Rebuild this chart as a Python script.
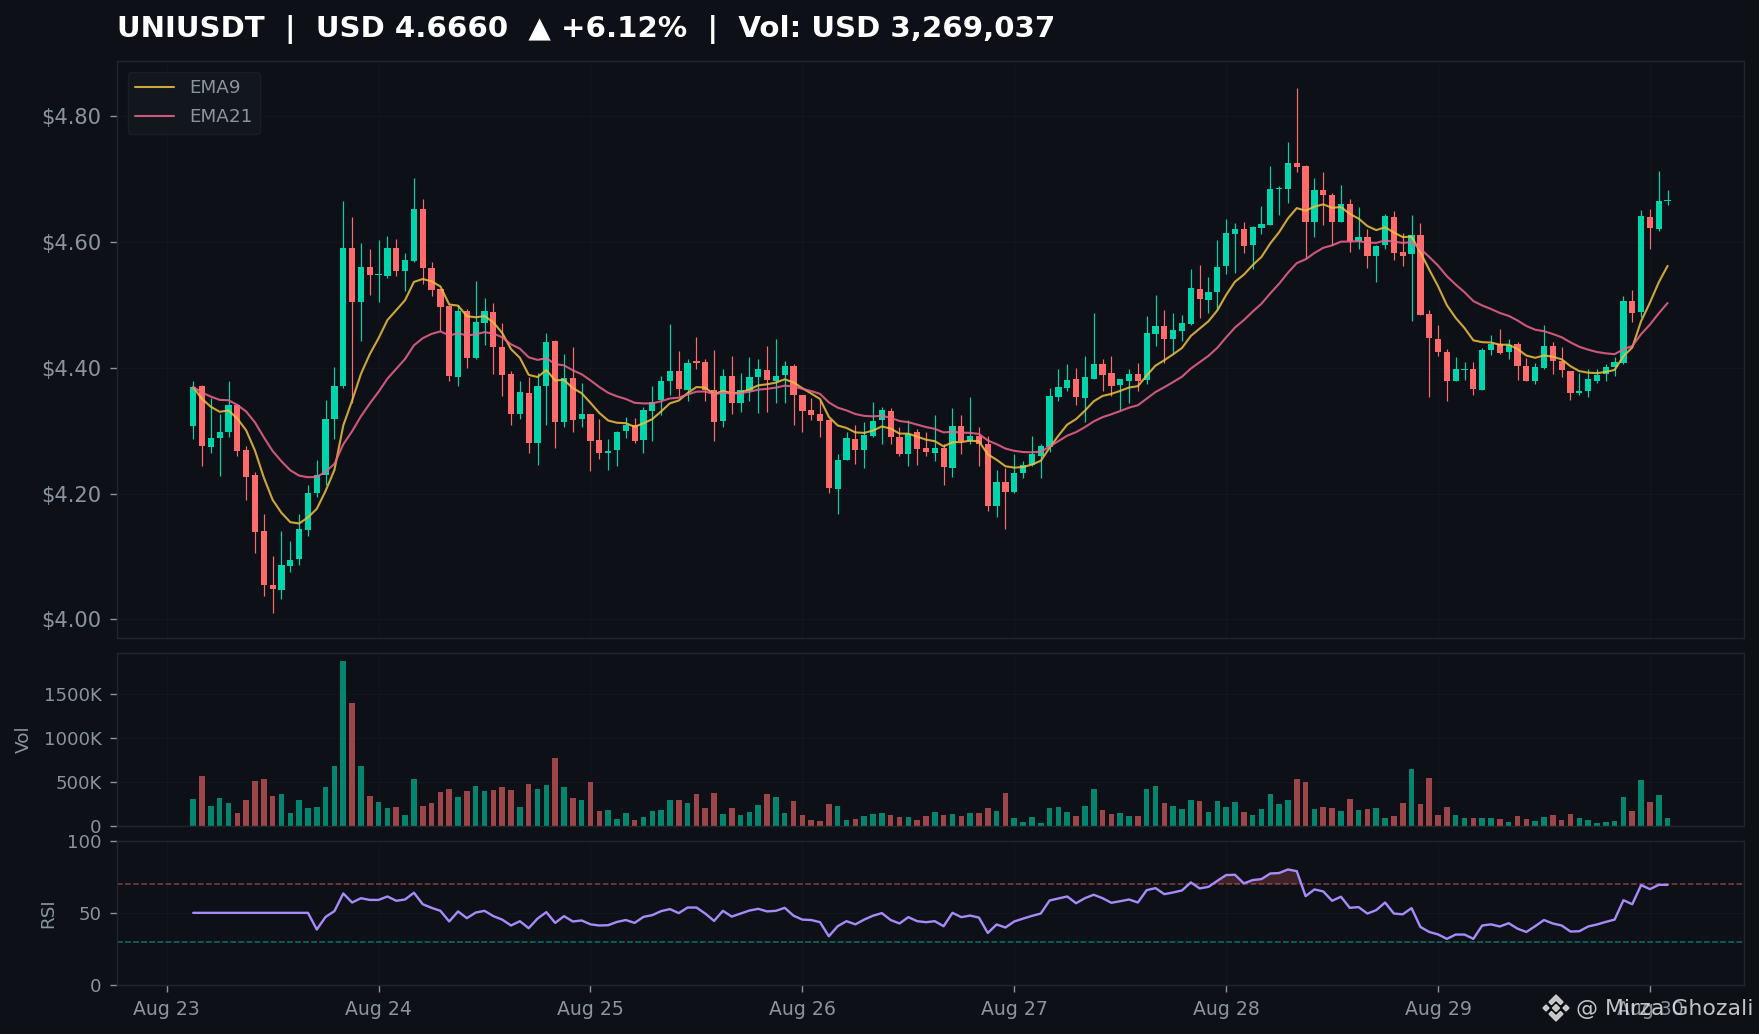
import numpy as np, pandas as pd, seaborn as sns, matplotlib
matplotlib.use("Agg")
import matplotlib.pyplot as plt, matplotlib.dates as mdates
from matplotlib.patches import Polygon
from matplotlib.transforms import IdentityTransform

opens=[4.307,4.370,4.2735,4.288,4.297,4.341,4.269,4.230,4.141,4.054,
4.0465,4.085,4.096,4.142,4.2005,4.229,4.318,4.370,4.590,4.505,
4.560,4.5465,4.546,4.590,4.554,4.570,4.652,4.558,4.525,4.498,
4.385,4.490,4.415,4.4715,4.488,4.433,4.390,4.326,4.360,4.280,
4.370,4.442,4.313,4.3835,4.318,4.3265,4.285,4.264,4.269,4.299,
4.309,4.285,4.331,4.348,4.378,4.395,4.364,4.410,4.4095,4.365,
4.315,4.387,4.344,4.3635,4.385,4.396,4.378,4.388,4.403,4.3565,
4.333,4.327,4.3175,4.207,4.253,4.287,4.269,4.291,4.316,4.331,
4.2905,4.2635,4.298,4.273,4.265,4.273,4.240,4.3075,4.2835,4.292,
4.279,4.180,4.219,4.203,4.232,4.246,4.259,4.2745,4.354,4.368,
4.382,4.351,4.3825,4.406,4.3915,4.373,4.379,4.390,4.381,4.453,
4.4665,4.446,4.458,4.470,4.525,4.508,4.5195,4.561,4.613,4.620,
4.594,4.621,4.627,4.683,4.684,4.725,4.7205,4.632,4.682,4.674,
4.632,4.660,4.6005,4.607,4.578,4.594,4.640,4.5835,4.580,4.6105,
4.485,4.4455,4.425,4.379,4.396,4.3985,4.364,4.4275,4.4375,4.424,
4.4375,4.403,4.378,4.399,4.434,4.4105,4.395,4.359,4.3625,4.379,
4.3895,4.4015,4.407,4.506,4.489,4.639,4.6195,4.665]
highs=[4.379,4.372,4.352,4.327,4.379,4.342,4.276,4.234,4.168,4.100,
4.141,4.125,4.168,4.214,4.254,4.349,4.4005,4.665,4.640,4.598,
4.589,4.603,4.6095,4.605,4.5825,4.7015,4.668,4.568,4.525,4.500,
4.500,4.493,4.5375,4.511,4.503,4.471,4.395,4.378,4.385,4.3915,
4.455,4.444,4.422,4.433,4.3755,4.327,4.319,4.287,4.300,4.322,
4.3205,4.3375,4.370,4.387,4.470,4.427,4.414,4.449,4.413,4.4285,
4.398,4.419,4.392,4.4175,4.414,4.435,4.446,4.411,4.405,4.357,
4.352,4.349,4.318,4.262,4.298,4.309,4.314,4.346,4.338,4.3365,
4.305,4.3175,4.303,4.297,4.324,4.278,4.3365,4.3255,4.354,4.305,
4.291,4.238,4.241,4.262,4.252,4.292,4.278,4.368,4.398,4.406,
4.400,4.419,4.487,4.414,4.419,4.382,4.398,4.4075,4.4825,4.516,
4.492,4.487,4.484,4.557,4.5635,4.5445,4.603,4.6365,4.630,4.632,
4.625,4.657,4.7205,4.689,4.759,4.8445,4.722,4.7015,4.711,4.678,
4.690,4.668,4.6555,4.6205,4.595,4.644,4.649,4.614,4.643,4.630,
4.492,4.468,4.430,4.4175,4.4095,4.4095,4.431,4.451,4.462,4.446,
4.440,4.416,4.4075,4.467,4.441,4.433,4.395,4.392,4.397,4.397,
4.406,4.4175,4.514,4.524,4.650,4.652,4.713,4.6825]
lows=[4.287,4.244,4.265,4.2275,4.290,4.260,4.190,4.105,4.0365,4.011,
4.032,4.075,4.087,4.132,4.195,4.214,4.286,4.367,4.344,4.443,
4.516,4.505,4.543,4.546,4.522,4.568,4.533,4.513,4.458,4.378,
4.370,4.400,4.414,4.4365,4.390,4.3555,4.3095,4.319,4.265,4.246,
4.3095,4.272,4.306,4.297,4.306,4.235,4.2555,4.238,4.2445,4.288,
4.281,4.265,4.284,4.325,4.357,4.3545,4.347,4.398,4.3475,4.284,
4.305,4.327,4.330,4.3475,4.3285,4.330,4.344,4.344,4.3095,4.298,
4.316,4.290,4.2015,4.168,4.2525,4.2475,4.240,4.290,4.279,4.279,
4.260,4.2445,4.246,4.259,4.251,4.214,4.2255,4.2635,4.278,4.2445,
4.1715,4.162,4.144,4.2015,4.224,4.243,4.224,4.2665,4.3475,4.3635,
4.340,4.314,4.382,4.3635,4.3555,4.333,4.343,4.3635,4.3745,4.435,
4.408,4.422,4.443,4.468,4.479,4.486,4.492,4.549,4.551,4.5825,
4.557,4.613,4.626,4.643,4.662,4.711,4.5745,4.608,4.627,4.595,
4.632,4.584,4.589,4.559,4.5365,4.589,4.571,4.562,4.4745,4.483,
4.354,4.419,4.3475,4.378,4.381,4.357,4.364,4.4205,4.422,4.413,
4.381,4.378,4.3745,4.397,4.3905,4.385,4.349,4.357,4.354,4.376,
4.379,4.386,4.405,4.473,4.481,4.589,4.6175,4.659]
closes=[4.369,4.275,4.288,4.298,4.341,4.267,4.226,4.139,4.0545,4.048,
4.087,4.095,4.144,4.201,4.230,4.3185,4.371,4.590,4.505,4.560,
4.5465,4.549,4.590,4.554,4.571,4.652,4.559,4.523,4.496,4.386,
4.4905,4.415,4.4725,4.490,4.432,4.388,4.326,4.361,4.280,4.371,
4.441,4.313,4.3835,4.316,4.3265,4.283,4.264,4.268,4.298,4.309,
4.283,4.333,4.3455,4.379,4.395,4.3655,4.407,4.407,4.365,4.313,
4.387,4.344,4.3645,4.385,4.398,4.380,4.387,4.403,4.356,4.331,
4.325,4.315,4.2085,4.2535,4.288,4.269,4.293,4.315,4.333,4.289,
4.2635,4.295,4.2715,4.2665,4.273,4.242,4.3075,4.2835,4.292,4.279,
4.180,4.219,4.202,4.232,4.246,4.262,4.276,4.355,4.369,4.380,
4.353,4.385,4.406,4.389,4.3715,4.382,4.390,4.379,4.455,4.4665,
4.446,4.459,4.471,4.527,4.509,4.520,4.560,4.614,4.620,4.5925,
4.623,4.628,4.6835,4.686,4.725,4.719,4.632,4.682,4.6735,4.632,
4.660,4.6005,4.607,4.577,4.593,4.641,4.5815,4.578,4.6105,4.483,
4.4465,4.424,4.378,4.398,4.3985,4.3655,4.4285,4.4375,4.423,4.4365,
4.402,4.378,4.401,4.434,4.410,4.396,4.359,4.363,4.382,4.388,
4.401,4.409,4.506,4.487,4.641,4.621,4.6645,4.666]
ema9=[4.3690,4.3502,4.3378,4.3298,4.3320,4.3190,4.3004,4.2681,4.2254,4.1899,4.1693,4.1545,4.1524,4.1621,4.1757,4.2042,4.2376,4.3081,4.3475,4.3900,4.4213,
4.4468,4.4755,4.4912,4.5071,4.5361,4.5407,4.5371,4.5289,4.5003,4.4984,4.4817,4.4799,4.4819,4.4719,4.4551,4.4293,4.4156,4.3885,4.3850,4.3962,4.3796,
4.3804,4.3675,4.3593,4.3440,4.3280,4.3160,4.3124,4.3117,4.3060,4.3114,4.3182,4.3304,4.3433,4.3477,4.3596,4.3691,4.3683,4.3572,4.3632,4.3593,4.3604,
4.3653,4.3718,4.3735,4.3762,4.3815,4.3764,4.3673,4.3589,4.3501,4.3218,4.3081,4.3041,4.2971,4.2963,4.3000,4.3066,4.3031,4.2952,4.2951,4.2904,4.2856,
4.2831,4.2749,4.2814,4.2818,4.2839,4.2829,4.2623,4.2536,4.2433,4.2411,4.2420,4.2460,4.2520,4.2726,4.2919,4.3095,4.3182,4.3316,4.3465,4.3550,4.3583,
4.3630,4.3684,4.3705,4.3874,4.4032,4.4118,4.4212,4.4312,4.4503,4.4621,4.4737,4.4909,4.5155,4.5364,4.5476,4.5627,4.5758,4.5973,4.6151,4.6370,4.6534,
4.6491,4.6557,4.6593,4.6538,4.6551,4.6441,4.6367,4.6248,4.6184,4.6229,4.6146,4.6073,4.6080,4.5830,4.5557,4.5293,4.4991,4.4789,4.4628,4.4433,4.4404,
4.4398,4.4364,4.4364,4.4296,4.4192,4.4156,4.4193,4.4174,4.4131,4.4023,4.3944,4.3920,4.3912,4.3931,4.3963,4.4182,4.4320,4.4738,4.5032,4.5355,4.5616]
ema21=[4.3690,4.3605,4.3539,4.3488,4.3481,4.3407,4.3303,4.3129,4.2894,4.2675,4.2511,4.2369,4.2284,4.2259,4.2263,4.2347,4.2471,4.2782,4.2989,4.3226,4.3430,
4.3617,4.3824,4.3980,4.4138,4.4354,4.4467,4.4536,4.4575,4.4510,4.4546,4.4510,4.4529,4.4563,4.4541,4.4481,4.4370,4.4301,4.4164,4.4123,4.4149,4.4056,
4.4036,4.3957,4.3894,4.3797,4.3692,4.3600,4.3544,4.3502,4.3441,4.3431,4.3433,4.3466,4.3510,4.3523,4.3573,4.3618,4.3621,4.3576,4.3603,4.3588,4.3593,
4.3617,4.3650,4.3663,4.3682,4.3714,4.3700,4.3664,4.3627,4.3583,4.3447,4.3364,4.3320,4.3263,4.3233,4.3225,4.3235,4.3203,4.3152,4.3133,4.3095,4.3056,
4.3027,4.2971,4.2981,4.2968,4.2963,4.2947,4.2843,4.2784,4.2714,4.2678,4.2659,4.2655,4.2665,4.2745,4.2831,4.2919,4.2975,4.3054,4.3146,4.3213,4.3259,
4.3310,4.3364,4.3402,4.3507,4.3612,4.3689,4.3771,4.3856,4.3985,4.4085,4.4187,4.4315,4.4481,4.4637,4.4754,4.4889,4.5015,4.5180,4.5333,4.5507,4.5660,
4.5720,4.5820,4.5903,4.5941,4.6001,4.6002,4.6008,4.5986,4.5981,4.6020,4.6001,4.5981,4.5993,4.5887,4.5758,4.5620,4.5452,4.5319,4.5197,4.5057,4.4987,
4.4931,4.4868,4.4822,4.4749,4.4661,4.4602,4.4578,4.4534,4.4482,4.4401,4.4331,4.4285,4.4248,4.4226,4.4214,4.4291,4.4343,4.4531,4.4684,4.4862,4.5026]
volumes=[304,573,224,315,258,144,292,509,532,338,361,144,292,201,213,440,680,1876,1397,680,
338,270,201,213,122,532,224,258,384,418,327,395,452,395,406,440,406,213,475,418,
463,771,440,315,292,497,167,178,76,144,65,99,167,178,292,292,258,361,201,372,
133,201,122,156,235,361,327,144,281,122,65,53,247,224,65,76,110,133,144,122,
99,99,65,110,156,122,133,110,144,144,201,167,372,87,42,99,30,201,213,156,
110,224,418,178,133,144,110,110,418,452,258,224,190,292,281,156,281,213,270,156,
122,190,361,247,292,532,497,190,213,201,167,304,178,190,201,87,110,258,645,247,
543,122,213,122,87,87,87,87,76,42,110,76,53,99,122,65,133,87,65,30,
42,53,327,167,520,270,349,87]
rsi=[50,50,50,50,50,50,50,50,50,50,50,50,50,50,38.4,47.2,51.2,63.5,57.2,60.2,59,59,61.4,58.4,59.3,64,56,53.5,51.4,44,51,46.3,50.2,51.4,
47.7,45.3,41.2,44.2,39.3,46,50.5,43,47.7,44,44.7,42,41.2,41.4,43.7,45,43,47.2,48.4,51.2,
52.6,49.8,53.7,53.7,49.5,44.4,51.4,47.4,49.5,51.6,52.8,51,51.4,53.5,48,45.3,45,43.5,33.7,40.7,
44.2,42,45.3,48,49.8,45,42.6,47,44.2,43.5,44.2,40.7,50,47,48.1,46.7,36,41.9,39.8,44,
46,47.9,49.5,58.6,60,61.4,56.7,60.2,62.6,60.2,57,58.1,59.3,57.2,65.8,67.2,63,64.2,65.6,71.2,
67,68.1,72.3,76.3,76.5,70.5,72.8,73.5,77.4,77.7,80.2,79,61.6,66.3,64.9,58.4,61.2,53.5,54,49.5,
51.9,57.2,49.5,49,53.3,40.2,36.7,35,31.9,34.9,34.9,31.9,41.2,42,40.5,42.8,39,36.7,40.7,45,
42.6,41.2,37,37.2,40.5,41.9,43.7,45.3,58.8,56,69.3,66.5,69.5,69.5]
price_ticks=[4.0,4.2,4.4,4.6,4.8]
price_labels=["$4.00","$4.20","$4.40","$4.60","$4.80"]
vol_ticks=[0,500,1000,1500]
vol_labels=["0","500K","1000K","1500K"]
rsi_ticks=[0,50,100]
TITLE="UNIUSDT  |  USD 4.6660  ▲ +6.12%  |  Vol: USD 3,269,037"

W,H=1759,1034
BG="#0d1117";GRID="#141920";SP="#21262d";TK="#8b949e";UP="#00d4aa";DN="#ff6b6b"
sns.set_theme(style="dark",rc={"figure.facecolor":BG,"axes.facecolor":BG,"savefig.facecolor":BG,"axes.edgecolor":SP,"axes.linewidth":1,
 "xtick.color":TK,"ytick.color":TK,"text.color":TK,"axes.labelcolor":TK,"font.family":"DejaVu Sans","grid.color":GRID,"grid.linewidth":.5,
 "xtick.bottom":True,"ytick.left":True})
def rect(l,t,r,b): return [l/W,(H-b)/H,(r-l)/W,(b-t)/H]
fig=plt.figure(figsize=(W/100,H/100),dpi=100)
ax=fig.add_axes(rect(116.7,61,1743.8,637.7))
av=fig.add_axes(rect(116.7,652.7,1743.8,825.7),sharex=ax)
ar=fig.add_axes(rect(116.7,841,1743.8,984.7),sharex=ax)
times=pd.date_range("2025-08-23 03:00",periods=len(closes),freq="h")
t=mdates.date2num(times)
o,h,l,c=map(np.array,(opens,highs,lows,closes))
up=c>=o
col=np.where(up,UP,DN)
ax.vlines(t,l,h,colors=col,lw=.85,zorder=2)
ax.bar(t,np.maximum(np.abs(c-o),.001),bottom=np.minimum(o,c),width=.0295,color=col,linewidth=0,zorder=3)
df=pd.DataFrame(dict(t=t,ema9=ema9,ema21=ema21,rsi=rsi,vol=volumes,d=np.where(up,"up","down")))
sns.lineplot(data=df,x="t",y="ema9",color="#f0c040",lw=1.5,alpha=.85,label="EMA9",ax=ax,zorder=4,errorbar=None)
sns.lineplot(data=df,x="t",y="ema21",color="#f0648c",lw=1.5,alpha=.85,label="EMA21",ax=ax,zorder=4,errorbar=None)
sns.barplot(data=df,x="t",y="vol",hue="d",palette={"up":UP,"down":DN},native_scale=True,dodge=False,width=.63,saturation=1,alpha=.6,legend=False,linewidth=0,ax=av)
sns.lineplot(data=df,x="t",y="rsi",color="#a78bfa",lw=1.7,ax=ar,zorder=4,errorbar=None)
ar.axhline(70,color=DN,lw=1.1,ls="--",alpha=.5)
ar.axhline(30,color=UP,lw=1.1,ls="--",alpha=.5)
ar.fill_between(t,rsi,70,where=np.array(rsi)>=70,color=DN,alpha=.2,interpolate=True,linewidth=0)
ax.set_ylim(3.971,4.887)
ax.set_yticks(price_ticks);ax.set_yticklabels(price_labels)
av.set_ylim(0,1975);av.set_yticks(vol_ticks);av.set_yticklabels(vol_labels)
ar.set_ylim(0,100);ar.set_yticks(rsi_ticks)
d0=mdates.date2num(pd.Timestamp("2025-08-23"))
ar.set_xlim(d0-.236,d0+7.443)
ar.xaxis.set_major_locator(mdates.DayLocator());ar.xaxis.set_major_formatter(mdates.DateFormatter("%b %d"))
for a,fs in ((ax,15.1),(av,13.1),(ar,13.1)):
    a.grid(True);a.set_xlabel("");a.set_ylabel("")
    a.tick_params(axis="y",labelsize=fs,length=4.8,width=1,pad=6,color=TK)
    a.tick_params(axis="x",labelsize=13.6,length=4.8,width=1,pad=6.5,color=TK)
    for s in a.spines.values(): s.set_color(SP);s.set_linewidth(1)
ax.tick_params(axis="x",labelbottom=False,length=0)
av.tick_params(axis="x",labelbottom=False,length=0)
av.set_ylabel("Vol",fontsize=13.2);av.yaxis.set_label_coords(-.0518,.5)
ar.set_ylabel("RSI",fontsize=13.2);ar.yaxis.set_label_coords(-.0364,.5)
leg=ax.legend(loc="upper left",fontsize=13.2,handlelength=2.15,facecolor="#161b22",edgecolor=SP,framealpha=.6,labelcolor=TK,borderaxespad=.6,labelspacing=.6)
fig.text(117/W,(H-37)/H,TITLE,fontsize=21.03,fontweight="bold",color="white",va="baseline")
fig.text(1576/W,(H-1009)/H,"@ Mirza Ghozali",fontsize=15.8,color="#d8d8d8",va="center",alpha=.9)
cx,cy=1556,H-1008
shapes=[[(0,-3.5),(3.5,0),(0,3.5),(-3.5,0)],[(-10,-3),(-7,0),(-10,3),(-13,0)],[(10,-3),(13,0),(10,3),(7,0)],
 [(0,13),(7,6),(4.5,3.5),(0,8),(-4.5,3.5),(-7,6)],[(0,-13),(7,-6),(4.5,-3.5),(0,-8),(-4.5,-3.5),(-7,-6)]]
for s in shapes:
    fig.add_artist(Polygon([(cx+x,cy+y) for x,y in s],closed=True,transform=IdentityTransform(),color="#d8d8d8",alpha=.9))
fig.savefig("out.png",dpi=100)
